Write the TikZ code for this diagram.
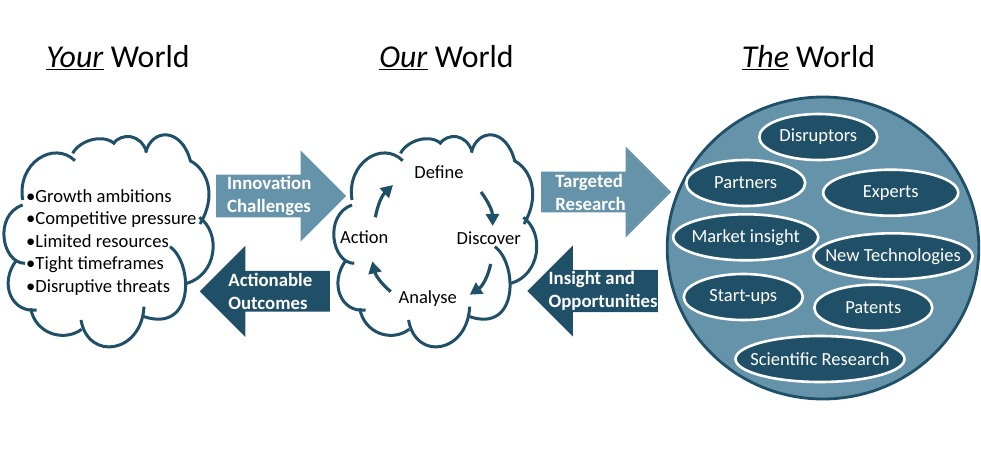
\documentclass[tikz,border=0pt]{standalone}
\usepackage{fontspec}
\setmainfont{Carlito}
\usetikzlibrary{arrows.meta,shapes.geometric,shapes.arrows,calc}

\definecolor{darkteal}{HTML}{205067}
\definecolor{midteal}{HTML}{6593A9}

\tikzset{
  cloudline/.style={draw=darkteal,line width=3pt,x=0.3333pt,y=-0.3333pt},
  cloudshape/.pic={
    \draw[cloudline] (68,240) .. controls (50,130) and (160,60) .. (225,122);
    \draw[cloudline] (218,100) .. controls (240,60) and (310,40) .. (345,72);
    \draw[cloudline] (338,72) .. controls (365,38) and (420,40) .. (440,95);
    \draw[cloudline] (437,98) .. controls (455,25) and (545,20) .. (572,125);
    \draw[cloudline] (570,122) .. controls (625,150) and (650,230) .. (600,312);
    \draw[cloudline] (598,292) .. controls (665,340) and (650,465) .. (560,490);
    \draw[cloudline] (510,380) .. controls (580,430) and (585,640) .. (432,590);
    \draw[cloudline] (432,560) .. controls (425,700) and (265,725) .. (243,600);
    \draw[cloudline] (245,628) .. controls (190,668) and (105,640) .. (92,565);
    \draw[cloudline] (110,570) .. controls (35,580) and (-5,490) .. (50,420);
    \draw[cloudline] (75,430) .. controls (5,430) and (-20,285) .. (68,255);
  },
  worldtitle/.style={font=\fontsize{31.8}{36}\selectfont},
  bigarrow/.style={single arrow,single arrow head extend=22.7pt,single arrow head indent=0pt,
    minimum width=91pt,minimum height=130pt,inner sep=0pt,text=white,align=left,
    font=\bfseries\fontsize{18.8}{23}\selectfont},
  lightarrow/.style={bigarrow,fill=midteal},
  darkarrow/.style={bigarrow,fill=darkteal,shape border rotate=180},
  source/.style={ellipse,draw=white,fill=darkteal,line width=2.6pt,inner sep=-40pt,text=white,
    minimum height=46pt,font=\fontsize{18.5}{20}\selectfont},
  stage/.style={inner sep=0pt,font=\fontsize{18.5}{20}\selectfont},
  cyclearrow/.style={draw=darkteal,line width=3.2pt,-{Triangle[length=12pt,width=13pt]}},
}

\begin{document}
\begin{tikzpicture}[x=1pt,y=-1pt]
  \useasboundingbox (0,0) rectangle (981,458);

  % titles
  \node[worldtitle] (yourtitle) at (118,58) {\underline{\textit{Your}} World};
  \node[worldtitle] (ourtitle) at (446.5,58) {\underline{\textit{Our}} World};
  \node[worldtitle] (thetitle) at (808.5,58) {\underline{\textit{The}} World};

  % clouds
  \pic at (0,120) {cloudshape};
  \pic[xscale=0.97] at (330,120) {cloudshape};

  \node[anchor=west,align=left,inner sep=0pt,font=\fontsize{18.6}{22.5}\selectfont] (pains) at (26,242.5)
    {•Growth ambitions\\•Competitive pressure\\•Limited resources\\•Tight timeframes\\•Disruptive threats};

  % the cycle
  \node[stage] (define) at (439,172) {Define};
  \node[stage] (discover) at (488.7,238) {Discover};
  \node[stage] (analyse) at (427.7,298.7) {Analyse};
  \node[stage] (action) at (364.3,237.3) {Action};
  \draw[cyclearrow] ($(define)+(42,20)$) to[bend left=18] ($(discover)+(4,-12)$);
  \draw[cyclearrow] ($(discover)+(2,26)$) to[bend left=22] ($(analyse)+(42,-4)$);
  \draw[cyclearrow] ($(analyse)+(-37,-7)$) to[bend left=18] ($(action)+(8,24)$);
  \draw[cyclearrow] ($(action)+(11,-20)$) to[bend left=18] ($(define)+(-46,13)$);

  % arrows between the worlds
  \node[lightarrow,anchor=tail] (innovation) at (216,196) {Innovation\\Challenges\hspace*{3pt}};
  \node[darkarrow,anchor=tail] (actionable) at (330,291.3) {Actionable\\Outcomes\hspace*{14pt}};
  \node[lightarrow,anchor=tail] (targeted) at (541,192) {Targeted\\Research\hspace*{11pt}};
  \node[darkarrow,anchor=tail] (insight) at (658,291) {Insight and\\Opportunities};

  % the world
  \draw[darkteal,fill=midteal,line width=2.8pt] (823,248) ellipse [x radius=155.8,y radius=151];
  \node[source,minimum width=118pt] (disruptors) at (818.3,137) {Disruptors};
  \node[source,minimum width=119pt] (partners) at (745.7,183) {Partners};
  \node[source,minimum width=135pt] (experts) at (890.7,192.7) {Experts};
  \node[source,minimum width=145pt] (market) at (745.7,237.3) {Market insight};
  \node[source,minimum width=159pt] (newtech) at (893,256.3) {New Technologies};
  \node[source,minimum width=119pt] (startups) at (743.3,297) {Start-ups};
  \node[source,minimum width=118pt] (patents) at (873.3,307.7) {Patents};
  \node[source,minimum width=169pt] (scientific) at (820,359) {Scientific Research};
\end{tikzpicture}
\end{document}
